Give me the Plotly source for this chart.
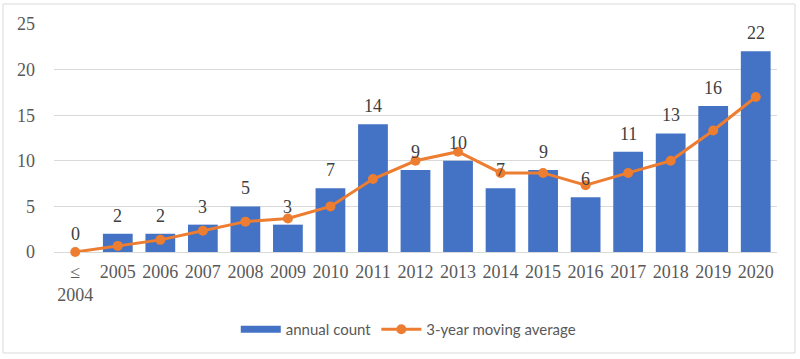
import plotly.graph_objects as go

categories = ["≤<br>2004", "2005", "2006", "2007", "2008", "2009", "2010", "2011", "2012",
              "2013", "2014", "2015", "2016", "2017", "2018", "2019", "2020"]
annual_count = [0, 2, 2, 3, 5, 3, 7, 14, 9, 10, 7, 9, 6, 11, 13, 16, 22]
moving_avg = [0, 0.67, 1.33, 2.33, 3.33, 3.67, 5, 8, 10, 11, 8.67, 8.67, 7.33, 8.67, 10, 13.33, 17]

serif = "Liberation Serif, Times New Roman, serif"
grey = "#595959"
blue = "#4472C4"
orange = "#ED7D31"

fig = go.Figure()
fig.add_trace(go.Bar(
    x=categories, y=annual_count, name="annual count",
    marker=dict(color=blue, line=dict(width=0)),
    showlegend=False,
))
# legend-only swatch for the bars (wide rectangle like the reference)
fig.add_trace(go.Scatter(
    x=[categories[0]], y=[None], name="annual count", mode="lines",
    line=dict(color=blue, width=7), showlegend=True,
))
fig.add_trace(go.Scatter(
    x=categories, y=moving_avg, name="3-year moving average",
    mode="lines+markers",
    line=dict(color=orange, width=3),
    marker=dict(color=orange, size=10),
    cliponaxis=False,
))

# value labels above bars (x given as category index on the category axis)
for i, v in enumerate(annual_count):
    fig.add_annotation(x=i, y=v, text=str(v), showarrow=False, yanchor="bottom",
                       yshift=6, font=dict(family=serif, size=18, color="#404040"))

fig.update_layout(
    width=800, height=359,
    margin=dict(l=54, r=23, t=24, b=107, autoexpand=False),
    paper_bgcolor="white", plot_bgcolor="white",
    bargap=0.3,
    showlegend=True,
    legend=dict(orientation="h", x=0.49, xanchor="center", y=-0.34, yanchor="middle",
                font=dict(family="Lato, Carlito, sans-serif", size=15, color=grey),
                itemwidth=40, tracegroupgap=0),
    xaxis=dict(type="category", categoryorder="array", categoryarray=categories,
               range=[-0.5, len(categories) - 0.5],
               tickfont=dict(family=serif, size=18, color=grey), showgrid=False,
               showline=False, ticks="", tickangle=0, automargin=False,
               ticklabelstandoff=7),
    yaxis=dict(range=[0, 25], dtick=5, tickfont=dict(family=serif, size=18, color=grey),
               gridcolor="#D9D9D9", gridwidth=1, zeroline=True, zerolinecolor="#D9D9D9",
               zerolinewidth=1, ticks="", ticklabelstandoff=18, automargin=False),
    shapes=[dict(type="rect", xref="paper", yref="paper",
                 x0=(3 - 54) / 723, x1=(795 - 54) / 723,
                 y0=(252 - 353) / 228, y1=(252 - 4) / 228,
                 line=dict(color="#D9D9D9", width=1), fillcolor="rgba(0,0,0,0)", layer="below")],
)

fig.write_html("out.html", config={"displayModeBar": False},
               post_script="document.body.style.margin='0';")
